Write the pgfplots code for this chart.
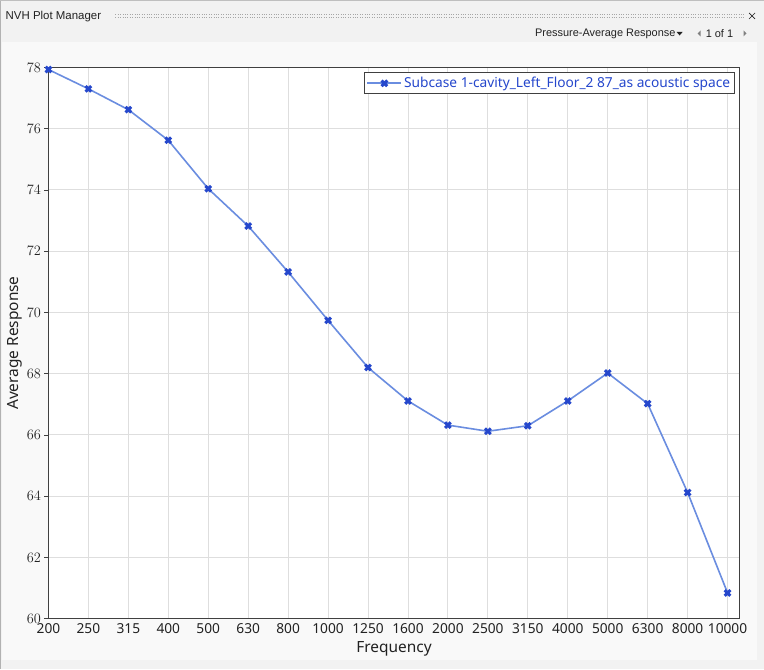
\documentclass[border=0pt]{standalone}
\usepackage{pgfplots}
\pgfplotsset{compat=1.18}
\usepackage{fontspec}
\setmainfont{Noto Sans}
\newfontfamily\hdrfont{Liberation Sans}
\definecolor{lineblue}{HTML}{6A8DE0}
\definecolor{markblue}{HTML}{2547CC}
\definecolor{gridgray}{HTML}{DEDEDE}
\definecolor{axisgray}{HTML}{404040}
\definecolor{hdrbg}{HTML}{F2F2F2}
\definecolor{panelbg}{HTML}{F9F9F9}
\definecolor{txtgray}{HTML}{222222}
\begin{document}
\begin{tikzpicture}[x=1bp,y=1bp]
% window background
\fill[hdrbg] (0,0) rectangle (764,669);
\fill[panelbg] (2,9) rectangle (757,627);
\draw[gray!60, line width=1bp] (0.5,0) -- (0.5,669);
\draw[gray!50, line width=1bp] (0,668.5) -- (764,668.5);
% header
\node[anchor=west, inner sep=0, font=\hdrfont\fontsize{11.5}{13}\selectfont, text=txtgray] at (5,653) {NVH Plot Manager};
\draw[gray!70, line width=0.8bp, dash pattern=on 0.8bp off 1.6bp] (115,655) -- (744,655);
\draw[gray!70, line width=0.8bp, dash pattern=on 0.8bp off 1.6bp] (115,652) -- (744,652);
\draw[txtgray, line width=0.7bp] (749.5,650.5) -- (755.5,656.5) (749.5,656.5) -- (755.5,650.5);
\node[anchor=east, inner sep=0, font=\hdrfont\fontsize{11}{13}\selectfont, text=txtgray] at (676,635.5) {Pressure-Average Response};
\fill[txtgray] (677,637.5) -- (683,637.5) -- (680,634) -- cycle;
\fill[gray] (701,633) -- (701,639) -- (698,636) -- cycle;
\node[anchor=west, inner sep=0, font=\hdrfont\fontsize{11}{13}\selectfont, text=txtgray] at (706,635.5) {1 of 1};
\fill[gray] (744,633) -- (744,639) -- (747,636) -- cycle;
% plot background
\fill[white] (48,50) rectangle (740,602);
\begin{axis}[
  at={(48bp,50bp)}, anchor=south west,
  scale only axis, width=692bp, height=552bp,
  xmin=0, xmax=17.3, ymin=60, ymax=78,
  xtick={0,...,17},
  xticklabels={200,250,315,400,500,630,800,1000,1250,1600,2000,2500,3150,4000,5000,6300,8000,10000},
  ytick={60,62,...,78},
  ytick pos=left,
  grid=major,
  major grid style={gridgray, line width=0.9bp},
  axis line style={axisgray, line width=1.3bp},
  tick align=outside,
  major tick length=4bp,
  xtick style={draw=none},
  ytick style={axisgray, line width=0.8bp},
  tick label style={font=\fontsize{13.8}{15}\selectfont, text=txtgray},
  xticklabel style={yshift=3bp},
  xlabel={Frequency},
  ylabel={Average Response},
  label style={font=\fontsize{15.5}{18}\selectfont, text=txtgray},
  xlabel style={yshift=-1bp},
  ylabel style={yshift=-2bp},
  legend style={at={(1,1)}, anchor=north east, xshift=-5bp, yshift=-5bp,
    draw=axisgray, line width=0.8bp, fill=white,
    font=\fontsize{13.8}{15}\selectfont, text=markblue,
    inner xsep=2bp, inner ysep=2.5bp},
  legend cell align=left,
  legend image code/.code={\draw[mark repeat=2,mark phase=2,#1] plot coordinates {(0bp,0bp) (17bp,0bp) (34bp,0bp)};},
]
\addplot[color=lineblue, line width=1.6bp, mark=x, mark size=4bp,
  mark options={color=markblue, line width=3bp, solid}]
  coordinates {
  (0,77.93) (1,77.3) (2,76.62) (3,75.62) (4,74.04) (5,72.82) (6,71.32) (7,69.74)
  (8,68.2) (9,67.11) (10,66.32) (11,66.12) (12,66.3) (13,67.11) (14,68.02)
  (15,67.02) (16,64.12) (17,60.84)
  };
\addlegendentry{Subcase 1-cavity\_Left\_Floor\_2 87\_as acoustic space}
\end{axis}
\end{tikzpicture}
\end{document}
